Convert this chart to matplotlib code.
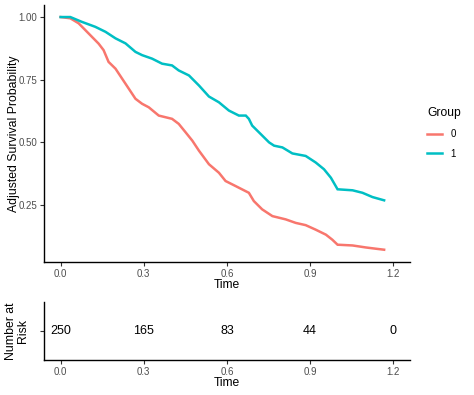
import matplotlib.pyplot as plt
from matplotlib.lines import Line2D

plt.rcParams["font.family"] = ["Liberation Sans", "DejaVu Sans"]

# survival curves (time, adjusted survival)
t_g0 = [0.0, 0.035, 0.065, 0.089, 0.113, 0.137, 0.155, 0.173, 0.198, 0.222,
        0.246, 0.270, 0.294, 0.318, 0.354, 0.402, 0.426, 0.451, 0.475, 0.499,
        0.535, 0.571, 0.595, 0.631, 0.679, 0.697, 0.727, 0.764, 0.812, 0.848,
        0.884, 0.920, 0.957, 0.980, 0.999, 1.053, 1.101, 1.137, 1.167]
s_g0 = [1.0, 0.995, 0.975, 0.948, 0.921, 0.894, 0.868, 0.821, 0.794, 0.754,
        0.714, 0.674, 0.654, 0.640, 0.607, 0.594, 0.574, 0.540, 0.507, 0.467,
        0.413, 0.379, 0.346, 0.326, 0.299, 0.266, 0.233, 0.206, 0.193, 0.179,
        0.170, 0.152, 0.132, 0.112, 0.092, 0.089, 0.081, 0.076, 0.072]

t_g1 = [0.0, 0.035, 0.076, 0.125, 0.162, 0.198, 0.234, 0.270, 0.294, 0.330,
        0.366, 0.402, 0.426, 0.463, 0.499, 0.535, 0.571, 0.607, 0.643, 0.668,
        0.679, 0.691, 0.722, 0.752, 0.770, 0.800, 0.836, 0.884, 0.920, 0.950,
        0.975, 0.999, 1.053, 1.089, 1.125, 1.167]
s_g1 = [1.0, 1.0, 0.981, 0.961, 0.941, 0.915, 0.895, 0.861, 0.848, 0.834,
        0.814, 0.807, 0.787, 0.767, 0.727, 0.683, 0.660, 0.627, 0.607, 0.607,
        0.594, 0.567, 0.533, 0.500, 0.487, 0.480, 0.456, 0.446, 0.420, 0.393,
        0.359, 0.313, 0.309, 0.299, 0.282, 0.269]

risk_times = [0.0, 0.3, 0.6, 0.9, 1.2]
risk_counts = [250, 165, 83, 44, 0]

groups = ["0", "1"]
colors = ["#F8766D", "#00BFC4"]

tick_grey = "#4D4D4D"

fig = plt.figure(figsize=(4.74, 3.95), dpi=100)
ax = fig.add_axes([0.0928, 0.3367, 0.772, 0.650])
ax_risk = fig.add_axes([0.0928, 0.0886, 0.772, 0.146])

ax.plot(t_g0, s_g0, color=colors[0], lw=1.8, solid_joinstyle="miter")
ax.plot(t_g1, s_g1, color=colors[1], lw=1.8, solid_joinstyle="miter")

for a in (ax, ax_risk):
    a.set_xlim(-0.06, 1.26)
    a.set_xticks(risk_times)
    a.set_xticklabels([f"{v:.1f}" for v in risk_times])
    for side in ("top", "right"):
        a.spines[side].set_visible(False)
    for side in ("left", "bottom"):
        a.spines[side].set_linewidth(1.0)
    a.tick_params(length=2.8, width=0.8, color="#333333", labelsize=7,
                  labelcolor=tick_grey, pad=2)
    a.set_xlabel("Time", fontsize=8.7, labelpad=0.5)

ax.set_ylim(0.023, 1.047)
ax.set_yticks([0.25, 0.50, 0.75, 1.00])
ax.set_yticklabels(["0.25", "0.50", "0.75", "1.00"])
ax.set_ylabel("Adjusted Survival Probability", fontsize=8.8, va="center")
ax.yaxis.set_label_coords(-0.083, 0.5)

ax_risk.set_ylim(0, 1)
ax_risk.set_yticks([0.5])
ax_risk.set_yticklabels([""])
for t, n in zip(risk_times, risk_counts):
    ax_risk.text(t, 0.5, str(n), ha="center", va="center", fontsize=9)
ax_risk.set_ylabel("Number at\nRisk", fontsize=8.8, linespacing=0.95,
                   va="center")
ax_risk.yaxis.set_label_coords(-0.074, 0.5)

handles = [Line2D([], [], color=c, lw=1.8) for c in colors]
leg = fig.legend(handles, groups, title="Group", loc="upper left",
                 bbox_to_anchor=(0.893, 0.738), frameon=False, fontsize=7,
                 title_fontsize=8.7, handlelength=1.5, handletextpad=0.9,
                 labelspacing=1.0, borderaxespad=0)
leg._legend_box.align = "left"

fig.savefig("out.png", dpi=100)
